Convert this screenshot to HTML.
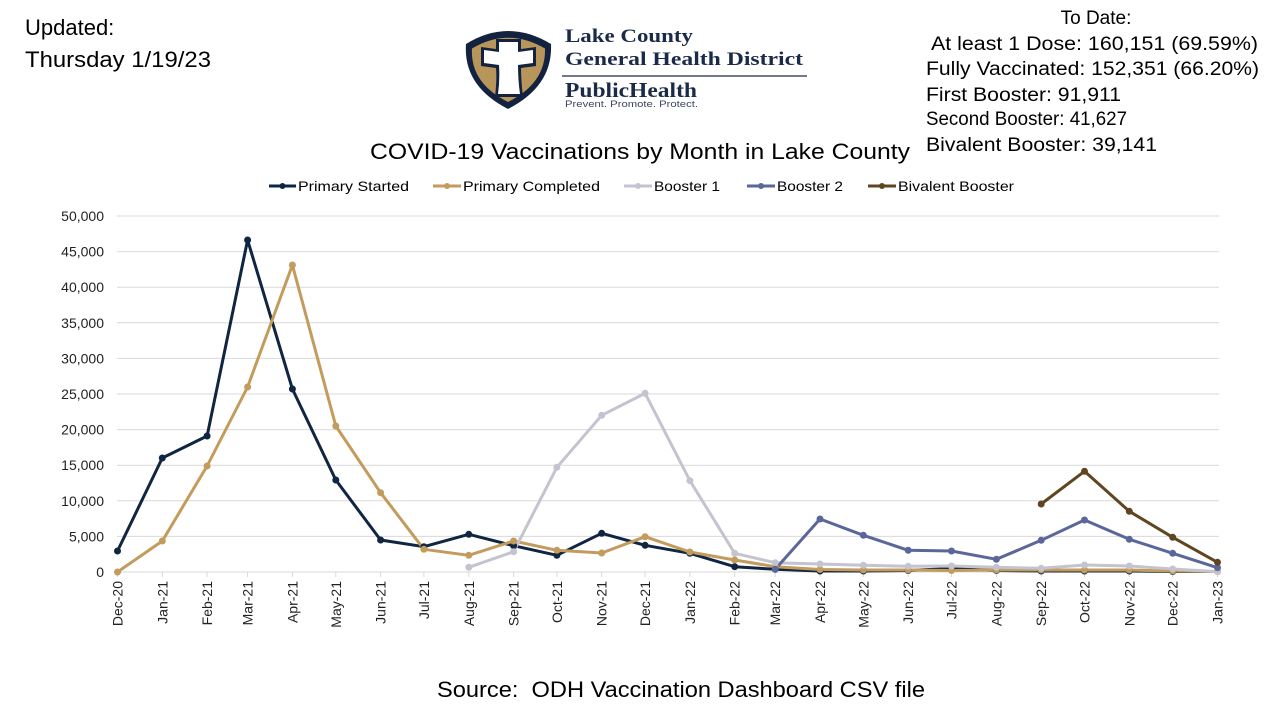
<!DOCTYPE html>
<html><head><meta charset="utf-8"><style>
html,body{margin:0;padding:0;background:#fff;}
svg{display:block;}
text{font-family:"Liberation Sans",Arial,sans-serif;}
.tk{font-size:14px;fill:#222;}
.sf{font-family:"Liberation Serif","DejaVu Serif",serif;font-weight:bold;fill:#1b2a48;}
</style></head><body>
<svg width="1280" height="720" viewBox="0 0 1280 720" xmlns="http://www.w3.org/2000/svg">
<rect width="1280" height="720" fill="#fff"/>
<!-- top left -->
<text x="25" y="35" font-size="22" fill="#000">Updated:</text>
<text x="25" y="67" font-size="22" fill="#000" textLength="186" lengthAdjust="spacingAndGlyphs">Thursday 1/19/23</text>
<!-- top right -->
<g font-size="19" fill="#000">
<text x="1096" y="24" text-anchor="middle">To Date:</text>
<text x="931" y="50" textLength="327" lengthAdjust="spacingAndGlyphs">At least 1 Dose: 160,151 (69.59%)</text>
<text x="926" y="75" textLength="333" lengthAdjust="spacingAndGlyphs">Fully Vaccinated: 152,351 (66.20%)</text>
<text x="926" y="101" textLength="195" lengthAdjust="spacingAndGlyphs">First Booster: 91,911</text>
<text x="926" y="125" textLength="201" lengthAdjust="spacingAndGlyphs">Second Booster: 41,627</text>
<text x="926" y="151" textLength="231" lengthAdjust="spacingAndGlyphs">Bivalent Booster: 39,141</text>
</g>
<!-- logo -->
<path d="M466,44 Q508,18 551,44 Q553,86 508,109 Q463,86 466,44 Z" fill="#13233f"/>
<path d="M472,48.5 Q508,27 545,48.5 Q546,83 508,102 Q470,83 472,48.5 Z" fill="#b8955a"/>
<path d="M496,39 L521,39 L521,49 L536,47 L536,66 L521,68 Q521,80 523,97 L495,97 Q497,80 496,68 L481,66 L481,47 L496,49 Z" fill="#13233f"/>
<path d="M499,42 L518,42 L518,52 L533,50 L533,63 L518,65 Q518,80 520,94 L498,94 Q500,80 499,65 L484,63 L484,50 L499,52 Z" fill="#fff"/>
<text class="sf" x="565" y="42" font-size="19" textLength="128" lengthAdjust="spacingAndGlyphs">Lake County</text>
<text class="sf" x="565" y="65" font-size="19" textLength="238" lengthAdjust="spacingAndGlyphs">General Health District</text>
<line x1="562" y1="76" x2="807" y2="76" stroke="#1b2a48" stroke-width="1.3"/>
<text class="sf" x="565" y="97" font-size="21" textLength="132" lengthAdjust="spacingAndGlyphs">PublicHealth</text>
<text x="565" y="107" font-size="9.5" fill="#3a4560" font-family="Liberation Serif,serif" textLength="133" lengthAdjust="spacingAndGlyphs">Prevent. Promote. Protect.</text>
<!-- title -->
<text x="370" y="159" font-size="22" fill="#000" textLength="540" lengthAdjust="spacingAndGlyphs">COVID-19 Vaccinations by Month in Lake County</text>
<!-- legend -->
<g font-size="14" fill="#000">
<line x1="269" y1="186" x2="296" y2="186" stroke="#0f2542" stroke-width="3"/><circle cx="282.5" cy="186" r="3" fill="#0f2542"/>
<text x="298" y="191" textLength="111" lengthAdjust="spacingAndGlyphs">Primary Started</text>
<line x1="433" y1="186" x2="461" y2="186" stroke="#c39b5c" stroke-width="3"/><circle cx="447" cy="186" r="3" fill="#c39b5c"/>
<text x="463" y="191" textLength="137" lengthAdjust="spacingAndGlyphs">Primary Completed</text>
<line x1="624" y1="186" x2="652" y2="186" stroke="#c4c3d0" stroke-width="3"/><circle cx="638" cy="186" r="3" fill="#c4c3d0"/>
<text x="654" y="191" textLength="66" lengthAdjust="spacingAndGlyphs">Booster 1</text>
<line x1="747" y1="186" x2="775" y2="186" stroke="#5b6699" stroke-width="3"/><circle cx="761" cy="186" r="3" fill="#5b6699"/>
<text x="777" y="191" textLength="66" lengthAdjust="spacingAndGlyphs">Booster 2</text>
<line x1="868" y1="186" x2="896" y2="186" stroke="#5f4520" stroke-width="3"/><circle cx="882" cy="186" r="3" fill="#5f4520"/>
<text x="898" y="191" textLength="116" lengthAdjust="spacingAndGlyphs">Bivalent Booster</text>
</g>
<!-- gridlines -->
<g stroke="#d9d9d9" stroke-width="1">
<line x1="117" y1="216" x2="1219" y2="216"/>
<line x1="117" y1="251.6" x2="1219" y2="251.6"/>
<line x1="117" y1="287.2" x2="1219" y2="287.2"/>
<line x1="117" y1="322.8" x2="1219" y2="322.8"/>
<line x1="117" y1="358.4" x2="1219" y2="358.4"/>
<line x1="117" y1="394" x2="1219" y2="394"/>
<line x1="117" y1="429.6" x2="1219" y2="429.6"/>
<line x1="117" y1="465.2" x2="1219" y2="465.2"/>
<line x1="117" y1="500.8" x2="1219" y2="500.8"/>
<line x1="117" y1="536.4" x2="1219" y2="536.4"/>
<line x1="117" y1="572" x2="1219" y2="572"/>
</g>
<!-- y labels -->
<g class="tk" text-anchor="end">
<text x="104" y="221">50,000</text>
<text x="104" y="256.6">45,000</text>
<text x="104" y="292.2">40,000</text>
<text x="104" y="327.8">35,000</text>
<text x="104" y="363.4">30,000</text>
<text x="104" y="399">25,000</text>
<text x="104" y="434.6">20,000</text>
<text x="104" y="470.2">15,000</text>
<text x="104" y="505.8">10,000</text>
<text x="104" y="541.4">5,000</text>
<text x="104" y="577">0</text>
</g>
<!-- x ticks -->
<g stroke="#d9d9d9" stroke-width="1">
<line x1="117.5" y1="572" x2="117.5" y2="577"/><line x1="162.3" y1="572" x2="162.3" y2="577"/><line x1="207.1" y1="572" x2="207.1" y2="577"/><line x1="247.6" y1="572" x2="247.6" y2="577"/><line x1="292.4" y1="572" x2="292.4" y2="577"/><line x1="335.8" y1="572" x2="335.8" y2="577"/><line x1="380.6" y1="572" x2="380.6" y2="577"/><line x1="423.9" y1="572" x2="423.9" y2="577"/><line x1="468.8" y1="572" x2="468.8" y2="577"/><line x1="513.6" y1="572" x2="513.6" y2="577"/><line x1="556.9" y1="572" x2="556.9" y2="577"/><line x1="601.7" y1="572" x2="601.7" y2="577"/><line x1="645.1" y1="572" x2="645.1" y2="577"/><line x1="689.9" y1="572" x2="689.9" y2="577"/><line x1="734.7" y1="572" x2="734.7" y2="577"/><line x1="775.2" y1="572" x2="775.2" y2="577"/><line x1="820" y1="572" x2="820" y2="577"/><line x1="863.4" y1="572" x2="863.4" y2="577"/><line x1="908.2" y1="572" x2="908.2" y2="577"/><line x1="951.5" y1="572" x2="951.5" y2="577"/><line x1="996.4" y1="572" x2="996.4" y2="577"/><line x1="1041.2" y1="572" x2="1041.2" y2="577"/><line x1="1084.5" y1="572" x2="1084.5" y2="577"/><line x1="1129.3" y1="572" x2="1129.3" y2="577"/><line x1="1172.7" y1="572" x2="1172.7" y2="577"/><line x1="1217.5" y1="572" x2="1217.5" y2="577"/>
</g>
<g class="tk" text-anchor="end">
<text transform="translate(122.5,581) rotate(-90)">Dec-20</text>
<text transform="translate(167.3,581) rotate(-90)">Jan-21</text>
<text transform="translate(212.1,581) rotate(-90)">Feb-21</text>
<text transform="translate(252.6,581) rotate(-90)">Mar-21</text>
<text transform="translate(297.4,581) rotate(-90)">Apr-21</text>
<text transform="translate(340.8,581) rotate(-90)">May-21</text>
<text transform="translate(385.6,581) rotate(-90)">Jun-21</text>
<text transform="translate(428.9,581) rotate(-90)">Jul-21</text>
<text transform="translate(473.8,581) rotate(-90)">Aug-21</text>
<text transform="translate(518.6,581) rotate(-90)">Sep-21</text>
<text transform="translate(561.9,581) rotate(-90)">Oct-21</text>
<text transform="translate(606.7,581) rotate(-90)">Nov-21</text>
<text transform="translate(650.1,581) rotate(-90)">Dec-21</text>
<text transform="translate(694.9,581) rotate(-90)">Jan-22</text>
<text transform="translate(739.7,581) rotate(-90)">Feb-22</text>
<text transform="translate(780.2,581) rotate(-90)">Mar-22</text>
<text transform="translate(825,581) rotate(-90)">Apr-22</text>
<text transform="translate(868.4,581) rotate(-90)">May-22</text>
<text transform="translate(913.2,581) rotate(-90)">Jun-22</text>
<text transform="translate(956.5,581) rotate(-90)">Jul-22</text>
<text transform="translate(1001.4,581) rotate(-90)">Aug-22</text>
<text transform="translate(1046.2,581) rotate(-90)">Sep-22</text>
<text transform="translate(1089.5,581) rotate(-90)">Oct-22</text>
<text transform="translate(1134.3,581) rotate(-90)">Nov-22</text>
<text transform="translate(1177.7,581) rotate(-90)">Dec-22</text>
<text transform="translate(1222.5,581) rotate(-90)">Jan-23</text>
</g>
<!-- series -->
<g fill="none" stroke-width="3" stroke-linejoin="round" stroke-linecap="round">
<polyline stroke="#0f2542" points="117.5,551 162.3,458 207.1,436 247.6,240 292.4,389 335.8,480 380.6,540 423.9,546.7 468.8,534.3 513.6,545.7 556.9,555.3 601.7,533.3 645.1,545.3 689.9,553.3 734.7,566.7 775.2,569.3 820,571 863.4,571 908.2,570.5 951.5,568.5 996.4,570.5 1041.2,571 1084.5,571 1129.3,571 1172.7,571.5 1217.5,571.5"/>
<polyline stroke="#c39b5c" points="117.5,572 162.3,541 207.1,466 247.6,387 292.4,265 335.8,426 380.6,492.7 423.9,549.3 468.8,555.3 513.6,541 556.9,550.3 601.7,553 645.1,536.7 689.9,552 734.7,560 775.2,566.7 820,569.5 863.4,570 908.2,570 951.5,570.5 996.4,570 1041.2,570 1084.5,570 1129.3,570 1172.7,571 1217.5,571.5"/>
<polyline stroke="#c4c3d0" points="468.8,567.3 513.6,551.7 556.9,467.3 601.7,415.3 645.1,393.3 689.9,480.7 734.7,553.3 775.2,562.7 820,564 863.4,565.3 908.2,566.3 951.5,566 996.4,567.3 1041.2,568.3 1084.5,565 1129.3,566 1172.7,569 1217.5,571.7"/>
<polyline stroke="#5b6699" points="775.2,569.3 820,519 863.4,535.3 908.2,550.3 951.5,551 996.4,559.3 1041.2,540.3 1084.5,520 1129.3,539.3 1172.7,553.3 1217.5,567.7"/>
<polyline stroke="#5f4520" points="1041.2,504 1084.5,471.3 1129.3,511.3 1172.7,537.3 1217.5,562.3"/>
</g>
<g fill="#0f2542">
<circle cx="117.5" cy="551" r="3.5"/><circle cx="162.3" cy="458" r="3.5"/><circle cx="207.1" cy="436" r="3.5"/><circle cx="247.6" cy="240" r="3.5"/><circle cx="292.4" cy="389" r="3.5"/><circle cx="335.8" cy="480" r="3.5"/><circle cx="380.6" cy="540" r="3.5"/><circle cx="423.9" cy="546.7" r="3.5"/><circle cx="468.8" cy="534.3" r="3.5"/><circle cx="513.6" cy="545.7" r="3.5"/><circle cx="556.9" cy="555.3" r="3.5"/><circle cx="601.7" cy="533.3" r="3.5"/><circle cx="645.1" cy="545.3" r="3.5"/><circle cx="689.9" cy="553.3" r="3.5"/><circle cx="734.7" cy="566.7" r="3.5"/><circle cx="775.2" cy="569.3" r="3.5"/><circle cx="820" cy="571" r="3.5"/><circle cx="863.4" cy="571" r="3.5"/><circle cx="908.2" cy="570.5" r="3.5"/><circle cx="951.5" cy="568.5" r="3.5"/><circle cx="996.4" cy="570.5" r="3.5"/><circle cx="1041.2" cy="571" r="3.5"/><circle cx="1084.5" cy="571" r="3.5"/><circle cx="1129.3" cy="571" r="3.5"/><circle cx="1172.7" cy="571.5" r="3.5"/><circle cx="1217.5" cy="571.5" r="3.5"/>
</g>
<g fill="#c39b5c">
<circle cx="117.5" cy="572" r="3.5"/><circle cx="162.3" cy="541" r="3.5"/><circle cx="207.1" cy="466" r="3.5"/><circle cx="247.6" cy="387" r="3.5"/><circle cx="292.4" cy="265" r="3.5"/><circle cx="335.8" cy="426" r="3.5"/><circle cx="380.6" cy="492.7" r="3.5"/><circle cx="423.9" cy="549.3" r="3.5"/><circle cx="468.8" cy="555.3" r="3.5"/><circle cx="513.6" cy="541" r="3.5"/><circle cx="556.9" cy="550.3" r="3.5"/><circle cx="601.7" cy="553" r="3.5"/><circle cx="645.1" cy="536.7" r="3.5"/><circle cx="689.9" cy="552" r="3.5"/><circle cx="734.7" cy="560" r="3.5"/><circle cx="775.2" cy="566.7" r="3.5"/><circle cx="820" cy="569.5" r="3.5"/><circle cx="863.4" cy="570" r="3.5"/><circle cx="908.2" cy="570" r="3.5"/><circle cx="951.5" cy="570.5" r="3.5"/><circle cx="996.4" cy="570" r="3.5"/><circle cx="1041.2" cy="570" r="3.5"/><circle cx="1084.5" cy="570" r="3.5"/><circle cx="1129.3" cy="570" r="3.5"/><circle cx="1172.7" cy="571" r="3.5"/><circle cx="1217.5" cy="571.5" r="3.5"/>
</g>
<g fill="#c4c3d0">
<circle cx="468.8" cy="567.3" r="3.5"/><circle cx="513.6" cy="551.7" r="3.5"/><circle cx="556.9" cy="467.3" r="3.5"/><circle cx="601.7" cy="415.3" r="3.5"/><circle cx="645.1" cy="393.3" r="3.5"/><circle cx="689.9" cy="480.7" r="3.5"/><circle cx="734.7" cy="553.3" r="3.5"/><circle cx="775.2" cy="562.7" r="3.5"/><circle cx="820" cy="564" r="3.5"/><circle cx="863.4" cy="565.3" r="3.5"/><circle cx="908.2" cy="566.3" r="3.5"/><circle cx="951.5" cy="566" r="3.5"/><circle cx="996.4" cy="567.3" r="3.5"/><circle cx="1041.2" cy="568.3" r="3.5"/><circle cx="1084.5" cy="565" r="3.5"/><circle cx="1129.3" cy="566" r="3.5"/><circle cx="1172.7" cy="569" r="3.5"/><circle cx="1217.5" cy="571.7" r="3.5"/>
</g>
<g fill="#5b6699">
<circle cx="775.2" cy="569.3" r="3.5"/><circle cx="820" cy="519" r="3.5"/><circle cx="863.4" cy="535.3" r="3.5"/><circle cx="908.2" cy="550.3" r="3.5"/><circle cx="951.5" cy="551" r="3.5"/><circle cx="996.4" cy="559.3" r="3.5"/><circle cx="1041.2" cy="540.3" r="3.5"/><circle cx="1084.5" cy="520" r="3.5"/><circle cx="1129.3" cy="539.3" r="3.5"/><circle cx="1172.7" cy="553.3" r="3.5"/><circle cx="1217.5" cy="567.7" r="3.5"/>
</g>
<g fill="#5f4520">
<circle cx="1041.2" cy="504" r="3.5"/><circle cx="1084.5" cy="471.3" r="3.5"/><circle cx="1129.3" cy="511.3" r="3.5"/><circle cx="1172.7" cy="537.3" r="3.5"/><circle cx="1217.5" cy="562.3" r="3.5"/>
</g>
<!-- source -->
<text x="437" y="697" font-size="22.5" fill="#000" textLength="488" lengthAdjust="spacingAndGlyphs" xml:space="preserve">Source:  ODH Vaccination Dashboard CSV file</text>
</svg>
</body></html>
